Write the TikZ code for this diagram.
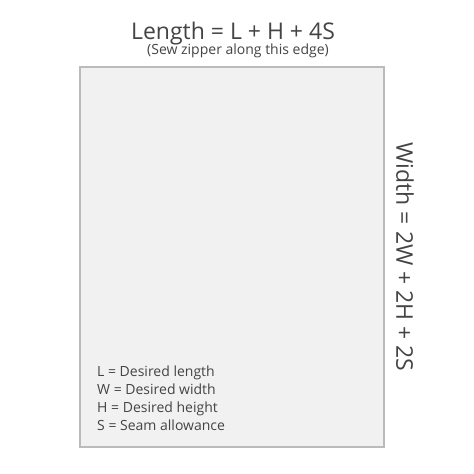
\documentclass[tikz,border=0pt]{standalone}
\usepackage{fontspec}
\setmainfont{Open Sans}
\definecolor{panel}{HTML}{F1F1F1}
\definecolor{edge}{HTML}{BBBBBB}
\definecolor{ink}{HTML}{444444}
\tikzset{
  label/.style={text=ink, inner sep=0pt},
  formula/.style={label, font=\fontsize{23}{27}\selectfont},
  keyline/.style={label, anchor=base west, font=\fontsize{14}{16}\selectfont}
}
\begin{document}
\begin{tikzpicture}[x=1pt,y=-1pt]
            \useasboundingbox[fill=white] (0,0) rectangle (474,474);
            % fabric panel
            \node[draw=edge, line width=1.4pt, fill=panel, minimum width=304pt, minimum height=380pt, inner sep=0pt] at (232,257) (P) {};
            % top edge
            \node[formula, anchor=base] at (233,39) (L) {Length = L + H + 4S};
            \node[label, anchor=base, font=\fontsize{14}{16}\selectfont] at (238,54) (Z) {(Sew zipper along this edge)};
            % side edge
            \node[formula, rotate=-90] at (405,257) (W) {Width = 2W + 2H + 2S};
            % key
            \node[keyline] at (97,376) (K1) {L = Desired length};
            \node[keyline] at (97,394) (K2) {W = Desired width};
            \node[keyline] at (97,412) (K3) {H = Desired height};
            \node[keyline] at (97,430) (K4) {S = Seam allowance};
          \end{tikzpicture}
\end{document}
